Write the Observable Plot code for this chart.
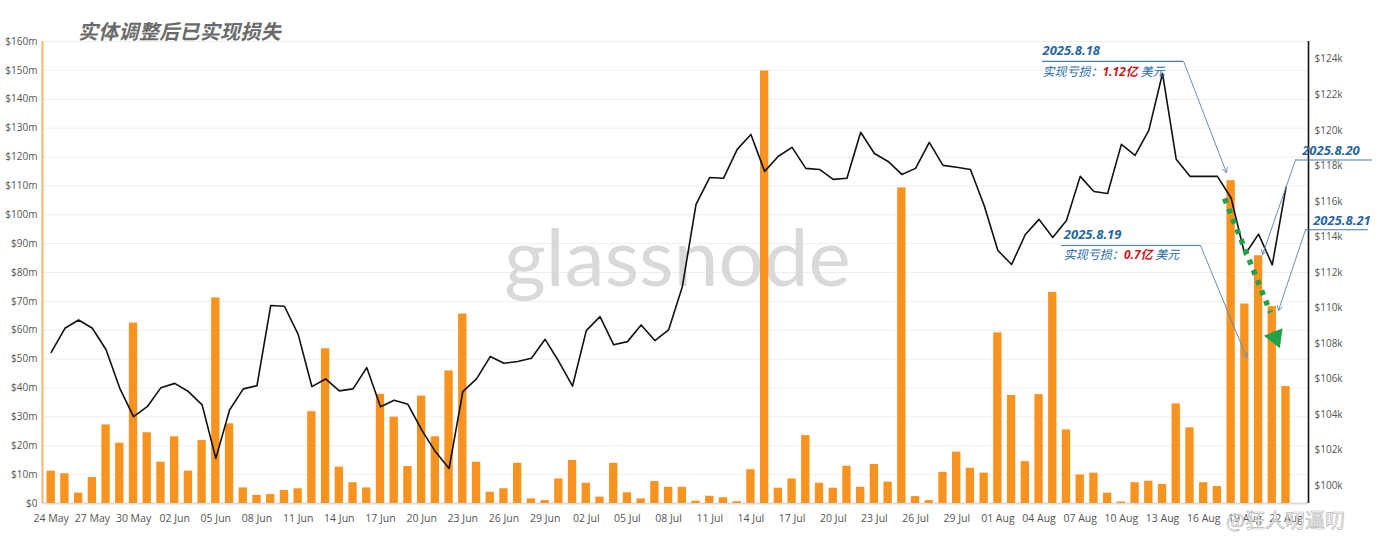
<!DOCTYPE html>
<html><head><meta charset="utf-8">
<script src="https://cdn.jsdelivr.net/npm/d3@7"></script>
<script src="https://cdn.jsdelivr.net/npm/@observablehq/plot@0.6"></script>
<style>
body{margin:0;background:#fff;}
#wrap{position:relative;width:1378px;height:539px;overflow:hidden;}
#title{position:absolute;left:78px;top:16px;font:italic bold 20px "Noto Sans CJK SC";color:#6a6a6a;letter-spacing:0.3px;}
#wm{position:absolute;left:1226px;top:505px;font:20px "Noto Sans CJK SC";color:rgba(255,255,255,0.85);-webkit-text-stroke:0.7px #b5b5b5;}
</style></head><body>
<div id="wrap"><div id="title">实体调整后已实现损失</div><div id="wm">@狂人叨逼叨</div></div>
<script>
// Daily realized loss (entity-adjusted), $ millions, 2025-05-24 .. 2025-08-22
const lossM = [11.2,10.3,3.6,9.0,27.2,20.9,62.5,24.5,14.3,23.1,
  11.2,21.8,71.2,27.6,5.4,2.8,3.1,4.5,5.1,31.8,
  53.6,12.6,7.2,5.4,37.8,29.9,12.8,37.2,23.1,45.9,
  65.6,14.3,3.9,5.1,13.9,1.6,1.0,8.5,14.9,7.0,
  2.2,13.9,3.7,1.6,7.6,5.6,5.6,0.8,2.5,2.0,
  0.6,11.7,149.8,5.3,8.5,23.5,7.0,5.3,12.9,5.6,
  13.5,7.4,109.3,2.4,1.0,10.8,17.8,12.2,10.5,59.1,
  37.4,14.5,37.7,73.1,25.5,9.9,10.5,3.6,0.5,7.2,
  7.7,6.6,34.5,26.2,7.2,5.9,111.8,69.1,85.8,68.2,
  40.5];
// BTC price, $ thousands
const priceK = [107.5,108.86,109.33,108.86,107.65,105.48,103.89,104.45,105.52,105.76,
  105.30,104.55,101.54,104.26,105.45,105.63,110.14,110.10,108.52,105.58,
  106.01,105.34,105.45,106.65,104.45,104.81,104.58,103.14,101.92,100.97,
  105.30,106.01,107.27,106.89,106.99,107.17,108.24,106.99,105.61,108.73,
  109.52,107.93,108.11,109.05,108.17,108.77,111.2,115.83,117.35,117.3,
  118.93,119.77,117.69,118.54,119.04,117.86,117.80,117.24,117.30,119.89,
  118.70,118.25,117.52,117.86,119.32,118.03,117.92,117.8,115.77,113.24,
  112.45,114.14,114.99,113.97,114.93,117.41,116.56,116.45,119.21,118.59,
  120.0,123.2,118.37,117.41,117.41,117.41,116.19,113.0,114.16,112.43,
  116.79];
const leftTicks = d3.range(0, 161, 10);      // $m
const rightTicks = d3.range(100, 125, 2);    // $k
const priceDomain = [99, 125];
const lossDomain = [0, 160];

// annotations (day offset from 24 May, value in $m of left axis)
const noteDates = [
  {label: "2025.8.18", t: 72.25, v: 156.9},
  {label: "2025.8.19", t: 73.81, v: 93.2},
  {label: "2025.8.20", t: 91.18, v: 122.0},
  {label: "2025.8.21", t: 91.98, v: 98.0}
];
const noteLosses = [
  {text: "实现亏损：1.12亿 美元", t: 72.25, v: 149.3},
  {text: "实现亏损：0.7亿 美元", t: 73.81, v: 85.9}
];
const underlines = [
  {t1: 72.25, t2: 82.54, v: 153.1},
  {t1: 73.64, t2: 83.77, v: 89.35},
  {t1: 90.69, t2: 96.3, v: 118.96},
  {t1: 91.42, t2: 96.0, v: 94.8}
];
const leaders = [
  {t1: 82.54, v1: 153.1, t2: 85.66, v2: 114.6},
  {t1: 83.77, v1: 89.35, t2: 87.13, v2: 50.6},
  {t1: 90.69, v1: 118.96, t2: 88.29, v2: 86.2},
  {t1: 91.42, v1: 94.8, t2: 89.45, v2: 66.8}
];
const trendArrow = [{t1: 85.52, v1: 105.6, t2: 88.87, v2: 66.1}];
const trendHead = [{t: 89.23, v: 57.5}];

const t0 = Date.UTC(2025, 4, 24, 12);
const at = t => new Date(t0 + t * 864e5);
const data = lossM.map((loss, i) => ({date: at(i), loss, price: priceK[i]}));
const toLeft = p => (p - priceDomain[0]) / (priceDomain[1] - priceDomain[0]) * (lossDomain[1] - lossDomain[0]);
const fromLeft = v => priceDomain[0] + v / (lossDomain[1] - lossDomain[0]) * (priceDomain[1] - priceDomain[0]);
const xDomain = [at(-0.634), at(91.64)];
const fmtDay = d3.utcFormat("%d %b");

const chart = Plot.plot({
  width: 1378, height: 539,
  marginTop: 41, marginBottom: 36, marginLeft: 42, marginRight: 70,
  style: {fontFamily: "Open Sans", background: "transparent"},
  x: {type: "utc", domain: xDomain, label: null},
  y: {domain: lossDomain, label: null},
  marks: [
    Plot.gridY({ticks: leftTicks, stroke: "#eeeeee", strokeOpacity: 1}),
    Plot.text(["glassnode"], {frameAnchor: "middle", text: d => d, fontSize: 80, fontFamily: "Lato", fill: "#d9d9d9", dy: -12, dx: 2}),
    Plot.ruleY([0], {stroke: "#dcdcdc", strokeWidth: 2}),
    Plot.rectY(data, {x: "date", interval: "day", y: "loss", fill: "#f7931e", insetLeft: 2.7, insetRight: 2.7}),
    Plot.line(data, {x: "date", y: d => toLeft(d.price), stroke: "#111", strokeWidth: 1.6}),
    Plot.ruleX([xDomain[0]], {stroke: "#f5b36c", strokeWidth: 2}),
    Plot.ruleX([xDomain[1]], {stroke: "#111", strokeWidth: 1.6}),
    Plot.axisY({anchor: "left", ticks: leftTicks, tickSize: 0, tickPadding: 5, label: null,
      tickFormat: d => d === 0 ? "$0" : `$${d}m`, fontSize: 10, color: "#555"}),
    Plot.axisY({anchor: "right", ticks: rightTicks.map(toLeft), tickSize: 0, tickPadding: 6, label: null,
      tickFormat: v => `$${Math.round(fromLeft(v))}k`, fontSize: 10, color: "#555"}),
    Plot.axisX({ticks: data.filter((d, i) => i % 3 === 0).map(d => d.date), tickFormat: fmtDay,
      tickSize: 0, tickPadding: 11, label: null, fontSize: 10.5, color: "#555"}),
    // trend arrow
    Plot.link(trendArrow, {x1: d => at(d.t1), y1: "v1", x2: d => at(d.t2), y2: "v2",
      stroke: "#21a24a", strokeWidth: 5.5, strokeDasharray: "5,6"}),
    Plot.dot(trendHead, {x: d => at(d.t), y: "v", symbol: "triangle", r: 7.5, rotate: 158, fill: "#21a24a", stroke: "none"}),
    // annotations
    Plot.ruleY(underlines, {y: "v", x1: d => at(d.t1), x2: d => at(d.t2), stroke: "#4a7aa5", strokeWidth: 1.2}),
    Plot.arrow(leaders, {x1: d => at(d.t1), y1: "v1", x2: d => at(d.t2), y2: "v2",
      stroke: "#6a8db0", strokeWidth: 1, headLength: 8}),
    Plot.text(noteDates, {x: d => at(d.t), y: "v", text: "label", textAnchor: "start",
      fill: "#1f66a2", fontWeight: "bold", fontStyle: "italic", fontSize: 13, fontFamily: "Open Sans"}),
    Plot.text(noteLosses, {x: d => at(d.t), y: "v", text: "text", textAnchor: "start",
      fill: "#2369a8", fontStyle: "italic", fontSize: 12, fontFamily: "Noto Sans CJK SC"})
  ]
});

// colour the amount inside the loss annotations
chart.querySelectorAll("text").forEach(t => {
  const m = t.textContent.match(/^(实现亏损：)(\S+亿)(\s*美元)$/);
  if (!m) return;
  t.textContent = "";
  const ns = "http://www.w3.org/2000/svg";
  [[m[1], null], [m[2], "amt"], [m[3], null]].forEach(([s, k]) => {
    const ts = document.createElementNS(ns, "tspan");
    ts.textContent = s;
    if (k) { ts.setAttribute("fill", "#c8171e"); ts.setAttribute("font-weight", "bold"); ts.setAttribute("font-family", "Open Sans, Noto Sans CJK SC"); }
    t.appendChild(ts);
  });
});
document.getElementById("wrap").prepend(chart);
chart.style.position = "absolute"; chart.style.left = "0"; chart.style.top = "0";
</script>
</body></html>
